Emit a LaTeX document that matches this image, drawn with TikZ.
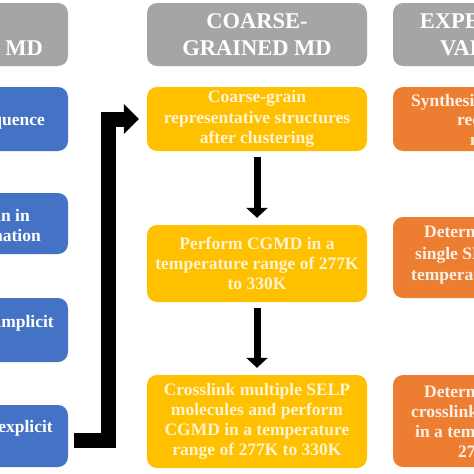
\documentclass[tikz,border=0pt]{standalone}
\usepackage{fontspec}
\setmainfont{Liberation Serif}
\usetikzlibrary{arrows.meta}
\definecolor{hdrgray}{HTML}{A5A5A5}
\definecolor{mdblue}{HTML}{4472C4}
\definecolor{cgyellow}{HTML}{FFC000}
\definecolor{exporange}{HTML}{ED7D31}
\definecolor{creamtxt}{HTML}{FFF4D4}
\definecolor{peachtxt}{HTML}{FDF0E6}
\begin{document}
\begin{tikzpicture}[x=1pt,y=-1pt,
  box/.style={rounded corners=10pt, inner sep=0pt, align=center},
  hdrtext/.style={font=\bfseries\fontsize{22.5}{27}\selectfont, text=white},
  bodytext/.style={font=\bfseries\fontsize{17.5}{20.2}\selectfont},
  linetext/.style={bodytext, inner sep=0pt},
  downarrow/.style={line width=7pt, -{Triangle[width=21pt,length=10pt]}, shorten <=6pt, shorten >=7pt},
  bigarrow/.style={line width=15pt, line join=miter, -{Triangle[width=29pt,length=15pt]}, shorten <=6pt, shorten >=8pt}
]
\useasboundingbox (0,0) rectangle (474,474);
\clip (0,0) rectangle (474,474);
\fill[white] (0,0) rectangle (474,474);

% Headers
\node[box, fill=hdrgray, minimum width=218pt, minimum height=63pt] (hmd) at (-41,34.5) {};
\node[hdrtext, inner sep=0pt, anchor=base east] (hmdt) at (43,55.5) {MD};
\node[box, fill=hdrgray, minimum width=220pt, minimum height=63pt, hdrtext] (hcg) at (257,34.5) {COARSE-\\GRAINED MD};
\node[box, fill=hdrgray, minimum width=236pt, minimum height=63pt, hdrtext] (hex) at (511,34.5) {EXPERIMENTAL\\VALIDATION};

% Blue column
\node[box, fill=mdblue, minimum width=218pt, minimum height=64pt] (b1) at (-41,119) {};
\node[box, fill=mdblue, minimum width=218pt, minimum height=61pt] (b2) at (-41,223.5) {};
\node[box, fill=mdblue, minimum width=218pt, minimum height=64pt] (b3) at (-41,330) {};
\node[box, fill=mdblue, minimum width=218pt, minimum height=62pt] (b4) at (-41,436) {};
\node[linetext, text=white, anchor=base east] (b1a) at (45,125) {Build SELP sequence};
\node[linetext, text=white, anchor=base east] (b2a) at (30,221) {Fold the protein in};
\node[linetext, text=white, anchor=base east] (b2b) at (41,241) {native conformation};
\node[linetext, text=white, anchor=base east] (b3a) at (54,327.5) {Perform AAMD in implicit};
\node[linetext, text=white, anchor=base east] (b4a) at (53,432.5) {Perform AAMD in explicit};

% Yellow column
\node[box, fill=cgyellow, minimum width=220pt, minimum height=64pt, bodytext, text=creamtxt] (y1) at (257,119)
  {Coarse-grain\\representative structures\\after clustering};
\node[box, fill=cgyellow, minimum width=220pt, minimum height=77pt, bodytext, text=creamtxt] (y2) at (257,263.5)
  {Perform CGMD in a\\temperature range of 277K\\to 330K};
\node[box, fill=cgyellow, minimum width=220pt, minimum height=93pt, bodytext, text=creamtxt] (y3) at (257,421.5)
  {Crosslink multiple SELP\\molecules and perform\\CGMD in a temperature\\range of 277K to 330K};

% Orange column
\node[box, fill=exporange, minimum width=236pt, minimum height=64pt] (o1) at (511,119) {};
\node[box, fill=exporange, minimum width=236pt, minimum height=81pt] (o2) at (511,257.5) {};
\node[box, fill=exporange, minimum width=236pt, minimum height=92pt] (o3) at (511,421) {};
\node[linetext, text=peachtxt, anchor=base west] (o1a) at (411,106) {Synthesis of SELP using};
\node[linetext, text=peachtxt, anchor=base west] (o1b) at (457,125.5) {recombinant};
\node[linetext, text=peachtxt, anchor=base west] (o1c) at (470,145) {methods};
\node[linetext, text=peachtxt, anchor=base west] (o2a) at (424,237.5) {Determine LCST of a};
\node[linetext, text=peachtxt, anchor=base west] (o2b) at (415,259.5) {single SELP molecule in a};
\node[linetext, text=peachtxt, anchor=base west] (o2c) at (411,280.5) {temperature range};
\node[linetext, text=peachtxt, anchor=base west] (o3a) at (424,397.5) {Determine LCST of};
\node[linetext, text=peachtxt, anchor=base west] (o3b) at (411,417.5) {crosslinked SELP};
\node[linetext, text=peachtxt, anchor=base west] (o3c) at (415,437.5) {in a temperature range};
\node[linetext, text=peachtxt, anchor=base west] (o3d) at (458,457.5) {277K to 330K};

% Arrows
\draw[downarrow] (y1.south) -- (y2.north);
\draw[downarrow] (y2.south) -- (y3.north);
\coordinate (c1) at (108,440.5);
\coordinate (c2) at (108,119);
\draw[bigarrow] (b4.east |- c1) -- (c1) -- (c2) -- (y1.west);
\end{tikzpicture}
\end{document}
